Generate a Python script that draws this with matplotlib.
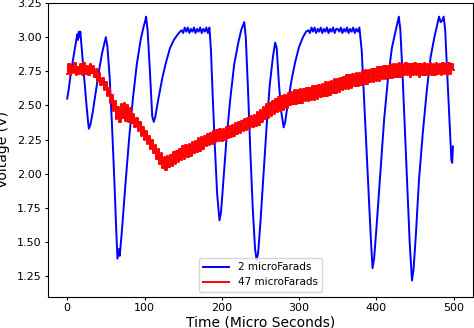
import matplotlib.pyplot as plt

# blue trace (2 uF): time, voltage
blue_t = [0, 2, 5, 8, 11, 13, 14, 15, 16, 17, 19, 22, 25, 27, 28, 30, 33, 37, 41, 45, 48, 50,
          52, 55, 58, 61, 63, 65, 67, 68, 71, 75, 80, 85, 90, 95, 99, 101, 102, 104, 107, 109,
          110, 112, 114, 118, 123, 128, 133, 138, 143, 146,
          148, 150, 152, 154, 156, 158, 160, 162, 164, 166, 168, 170, 172, 174, 176, 178, 180, 182, 184,
          186, 188, 191, 194, 197, 199, 202, 206, 211, 216, 221, 225, 229, 231, 234, 237, 240, 243,
          245, 247, 250, 254, 258, 262, 266, 269, 271, 274, 277, 280, 282, 285, 290, 295, 300, 305, 309,
          312, 314, 316, 318, 320, 322, 324, 326, 328, 330, 332, 334, 336, 338, 340, 342, 344, 346, 348,
          350, 352, 354, 356, 358, 360, 362, 364, 366, 368, 370, 372, 374, 376, 378,
          381, 384, 387, 390, 393, 395, 397, 400, 405, 410, 415, 420, 425, 429, 431, 434, 437, 440,
          443, 446, 448, 451, 455, 460, 465, 470, 475, 479, 481, 483, 485, 487, 489, 491, 494, 497, 498, 499]
blue_v = [2.55, 2.62, 2.75, 2.85, 2.95, 3.02, 2.98, 3.04, 3.00, 3.04, 2.90, 2.70, 2.50, 2.38, 2.33,
          2.36, 2.45, 2.60, 2.75, 2.88, 2.95, 3.00,
          2.93, 2.70, 2.35, 1.95, 1.65, 1.38, 1.45, 1.40, 1.60, 1.90, 2.25, 2.55, 2.80, 2.98, 3.08,
          3.12, 3.15, 3.05, 2.75, 2.52,
          2.42, 2.38, 2.42, 2.55, 2.70, 2.82, 2.92, 2.98, 3.02, 3.04,
          3.05, 3.03, 3.07, 3.04, 3.07, 3.03, 3.06, 3.04, 3.07, 3.03, 3.06, 3.04, 3.07, 3.03, 3.06,
          3.04, 3.07, 3.03, 3.07,
          2.90, 2.60, 2.20, 1.85, 1.66, 1.72, 1.95, 2.25, 2.55, 2.80, 2.95, 3.05, 3.11, 3.00, 2.60,
          2.15, 1.75, 1.45,
          1.37, 1.42, 1.65, 2.00, 2.35, 2.65, 2.85, 2.96, 2.92, 2.65, 2.45, 2.34, 2.38, 2.50, 2.68,
          2.82, 2.93, 3.00, 3.04,
          3.05, 3.03, 3.07, 3.04, 3.07, 3.03, 3.06, 3.04, 3.07, 3.03, 3.06, 3.04, 3.07, 3.03, 3.06,
          3.04, 3.07, 3.03, 3.06,
          3.06, 3.04, 3.07, 3.03, 3.06, 3.04, 3.07, 3.03, 3.06, 3.04, 3.07, 3.03, 3.06, 3.04, 3.07,
          2.90, 2.55, 2.20, 1.85, 1.50, 1.31, 1.38, 1.60, 2.00, 2.40, 2.70, 2.92, 3.05, 3.15, 3.05,
          2.70, 2.30, 1.90,
          1.50, 1.22, 1.30, 1.55, 1.95, 2.30, 2.60, 2.85, 3.00, 3.10, 3.15, 3.11, 3.12, 3.15, 3.05,
          2.80, 2.45, 2.10, 2.08, 2.20]

# red trace (47 uF), sampled every 2 us
red_t = list(range(0, 501, 2))
red_v = [2.73, 2.80, 2.72, 2.79, 2.74, 2.81, 2.72, 2.78, 2.73, 2.80,
         2.72, 2.81, 2.73, 2.79, 2.72, 2.80, 2.74, 2.79, 2.71, 2.77,
         2.68, 2.74, 2.65, 2.70, 2.61, 2.67, 2.57, 2.63, 2.52, 2.58,
         2.46, 2.53, 2.40, 2.49, 2.38, 2.51, 2.41, 2.52, 2.39, 2.50,
         2.38, 2.48, 2.37, 2.44, 2.34, 2.41, 2.31, 2.38, 2.28, 2.34,
         2.25, 2.31, 2.22, 2.28, 2.18, 2.25, 2.15, 2.21, 2.11, 2.18,
         2.07, 2.15, 2.04, 2.12, 2.03, 2.13, 2.05, 2.14, 2.06, 2.16,
         2.07, 2.17, 2.09, 2.18, 2.10, 2.20, 2.11, 2.21, 2.12, 2.22,
         2.13, 2.23, 2.15, 2.24, 2.16, 2.26, 2.17, 2.27, 2.18, 2.28,
         2.20, 2.29, 2.21, 2.30, 2.22, 2.31, 2.23, 2.32, 2.24, 2.33,
         2.24, 2.33, 2.25, 2.34, 2.26, 2.35, 2.27, 2.36, 2.28, 2.37,
         2.29, 2.38, 2.30, 2.39, 2.31, 2.40, 2.32, 2.41, 2.33, 2.42,
         2.34, 2.43, 2.35, 2.45, 2.36, 2.47, 2.38, 2.49, 2.40, 2.51,
         2.41, 2.52, 2.42, 2.53, 2.44, 2.55, 2.45, 2.56, 2.46, 2.57,
         2.47, 2.58, 2.48, 2.59, 2.50, 2.60, 2.51, 2.61, 2.51, 2.61,
         2.52, 2.62, 2.52, 2.62, 2.53, 2.63, 2.53, 2.63, 2.54, 2.64,
         2.54, 2.64, 2.55, 2.65, 2.56, 2.66, 2.57, 2.67, 2.57, 2.67,
         2.58, 2.68, 2.59, 2.69, 2.59, 2.69, 2.60, 2.70, 2.61, 2.71,
         2.62, 2.72, 2.62, 2.72, 2.63, 2.73, 2.64, 2.74, 2.64, 2.74,
         2.65, 2.75, 2.66, 2.76, 2.66, 2.76, 2.67, 2.77, 2.67, 2.77,
         2.68, 2.78, 2.68, 2.78, 2.69, 2.79, 2.69, 2.79, 2.70, 2.80,
         2.70, 2.80, 2.71, 2.80, 2.71, 2.81, 2.71, 2.80, 2.72, 2.81,
         2.72, 2.80, 2.71, 2.80, 2.72, 2.81, 2.72, 2.80, 2.71, 2.80,
         2.72, 2.81, 2.72, 2.80, 2.73, 2.81, 2.72, 2.80, 2.72, 2.81,
         2.73, 2.80, 2.72, 2.81, 2.73, 2.80, 2.72, 2.81, 2.73, 2.80,
         2.76]

fig, ax = plt.subplots(figsize=(4.74, 3.28), dpi=100)
fig.subplots_adjust(left=0.101, right=0.998, top=0.991, bottom=0.095)

ax.plot(blue_t, blue_v, color='blue', lw=1.4, label='2 microFarads')
ax.plot(red_t, red_v, color='red', lw=1.4, drawstyle='steps-mid', label='47 microFarads')

ax.set_ylim(1.10, 3.25)
ax.set_yticks([1.25, 1.50, 1.75, 2.00, 2.25, 2.50, 2.75, 3.00, 3.25])
ax.set_xticks([0, 100, 200, 300, 400, 500])
ax.tick_params(labelsize=8, length=2.5, pad=2)
ax.set_xlabel('Time (Micro Seconds)', fontsize=10, labelpad=2)
ax.set_ylabel('Voltage (V)', fontsize=10, labelpad=5)
ax.legend(loc='lower center', fontsize=7.5, handlelength=2.5)

fig.savefig('out.png')
